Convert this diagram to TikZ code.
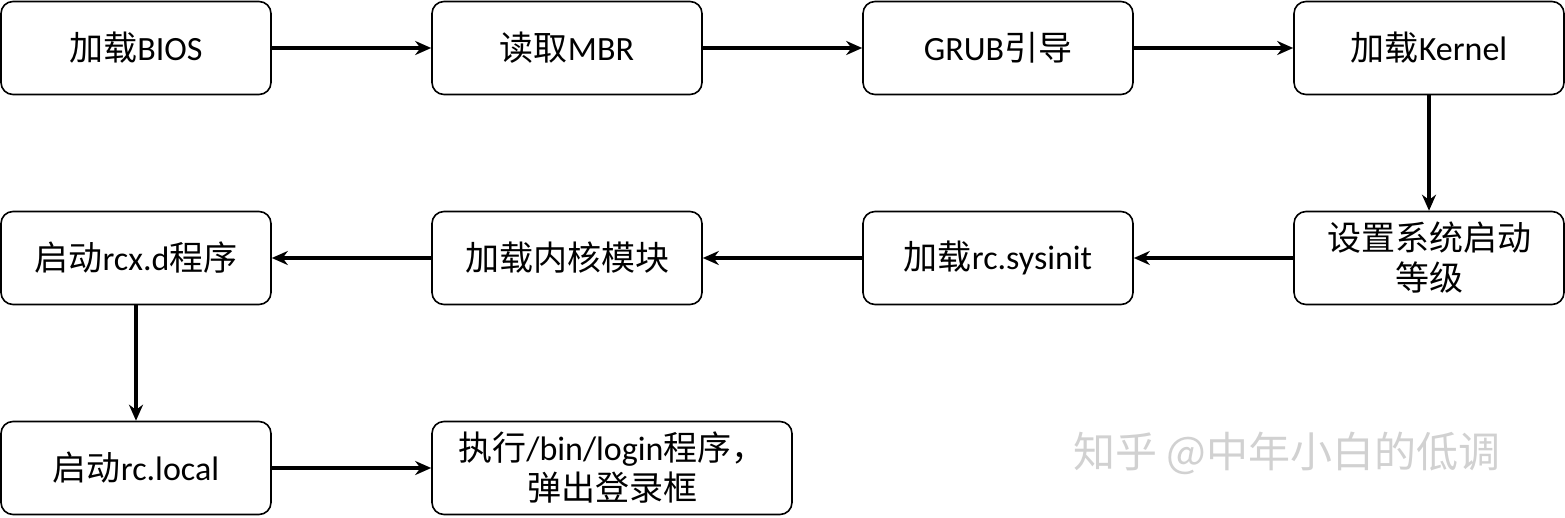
\documentclass[tikz,border=0pt]{standalone}
\usepackage{fontspec}
\setmainfont{Carlito}
\newfontfamily\cjk{Noto Sans CJK SC}
\usetikzlibrary{arrows.meta}
\begin{document}
\begin{tikzpicture}[x=1pt,y=-1pt,
  box/.style={draw,line width=1.6pt,rounded corners=12pt,minimum height=93pt,inner sep=1pt,align=center,font=\fontsize{34}{40}\selectfont},
  w/.style={minimum width=270pt},
  ar/.style={line width=3.5pt,-{Stealth[length=16pt,width=14pt]}}]
\useasboundingbox (0,0) rectangle (1565,517);
\node[box,w] (a) at (136,48) {{\cjk 加载}BIOS};
\node[box,w] (b) at (567,48) {{\cjk 读取}MBR};
\node[box,w] (c) at (998,48) {GRUB{\cjk 引导}};
\node[box,w] (d) at (1429,48) {{\cjk 加载}Kernel};
\node[box,w] (e) at (1429,258) {{\cjk 设置系统启动}\\{\cjk 等级}};
\node[box,w] (f) at (998,258) {{\cjk 加载}rc.sysinit};
\node[box,w] (g) at (567,258) {{\cjk 加载内核模块}};
\node[box,w] (h) at (136,258) {{\cjk 启动}rcx.d{\cjk 程序}};
\node[box,w] (i) at (136,468) {{\cjk 启动}rc.local};
\node[box,minimum width=360pt] (j) at (612,468) {{\cjk 执行}/bin/login{\cjk 程序，}\\{\cjk 弹出登录框}};
\draw[ar] (a) -- (b);
\draw[ar] (b) -- (c);
\draw[ar] (c) -- (d);
\draw[ar] (d) -- (e);
\draw[ar] (e) -- (f);
\draw[ar] (f) -- (g);
\draw[ar] (g) -- (h);
\draw[ar] (h) -- (i);
\draw[ar] (i) -- (j);
\node[text=black!18,font=\cjk\fontsize{42}{42}\selectfont] (wm) at (1287,453) {知乎 @中年小白的低调};
\end{tikzpicture}
\end{document}
